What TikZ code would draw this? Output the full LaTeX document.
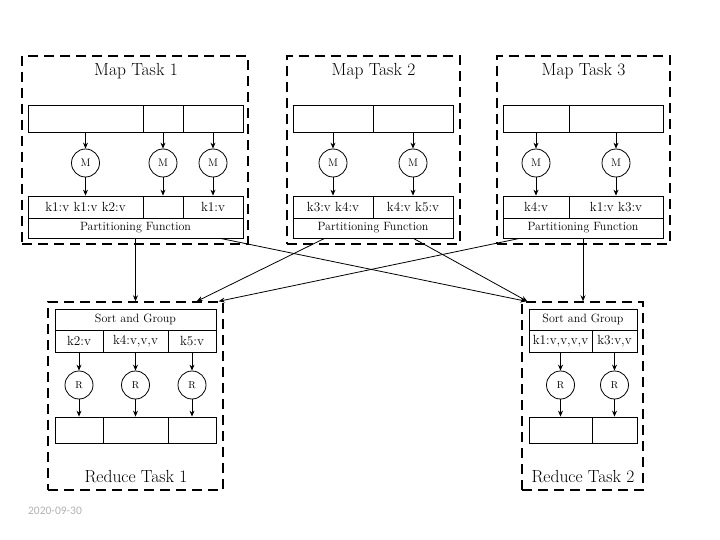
\documentclass[tikz,border=0pt]{standalone}
\usepackage{fontspec}
\newfontfamily\datefont{Carlito}
\usetikzlibrary{arrows.meta,calc}
\tikzset{
  taskbox/.style={draw, line width=1.4pt, dash pattern=on 10pt off 6pt, inner sep=0pt},
  cell/.style={draw, line width=0.8pt, inner sep=0pt, font=\fontsize{12}{14}\selectfont},
  keycell/.style={cell, font=\fontsize{13.3}{15}\selectfont},
  op/.style={draw, circle, line width=0.8pt, minimum size=28pt, inner sep=0pt, font=\fontsize{11}{13}\selectfont},
  tasktitle/.style={font=\fontsize{17.5}{20}\selectfont},
  arr/.style={-{Stealth[length=6pt,width=5pt]}, line width=0.8pt},
}
\begin{document}
\begin{tikzpicture}[x=1pt,y=-1pt]
\fill[white] (0,0) rectangle (720,540);
\useasboundingbox (0,0) rectangle (720,540);

% ---------- Map Task 1 ----------
\node[taskbox, minimum width=226pt, minimum height=188pt] (mt1) at (135,150) {};
\node[tasktitle] (t1) at (136,71) {Map Task 1};
\node[cell, minimum width=115pt, minimum height=27pt] (a11) at (85.5,118.5) {};
\node[cell, minimum width=40pt, minimum height=27pt] (a12) at (163,118.5) {};
\node[cell, minimum width=60pt, minimum height=27pt] (a13) at (213,118.5) {};
\node[op] (m11) at (85.5,163) {M};
\node[op] (m12) at (163,163) {M};
\node[op] (m13) at (213,163) {M};
\node[keycell, minimum width=115pt, minimum height=22pt] (o11) at (85.5,207) {k1:v k1:v k2:v};
\node[keycell, minimum width=40pt, minimum height=22pt] (o12) at (163,207) {};
\node[keycell, minimum width=60pt, minimum height=22pt] (o13) at (213,207) {k1:v};
\node[cell, minimum width=215pt, minimum height=20pt] (p1) at (135.5,228) {Partitioning Function};

% ---------- Map Task 2 ----------
\node[taskbox, minimum width=173pt, minimum height=188pt] (mt2) at (373.5,150) {};
\node[tasktitle] (t2) at (373.5,71) {Map Task 2};
\node[cell, minimum width=80pt, minimum height=27pt] (a21) at (333,118.5) {};
\node[cell, minimum width=80pt, minimum height=27pt] (a22) at (413,118.5) {};
\node[op] (m21) at (333,163) {M};
\node[op] (m22) at (413,163) {M};
\node[keycell, minimum width=80pt, minimum height=22pt] (o21) at (333,207) {k3:v k4:v};
\node[keycell, minimum width=80pt, minimum height=22pt] (o22) at (413,207) {k4:v k5:v};
\node[cell, minimum width=160pt, minimum height=20pt] (p2) at (373,228) {Partitioning Function};

% ---------- Map Task 3 ----------
\node[taskbox, minimum width=173pt, minimum height=188pt] (mt3) at (583.5,150) {};
\node[tasktitle] (t3) at (583.5,71) {Map Task 3};
\node[cell, minimum width=66pt, minimum height=27pt] (a31) at (536,118.5) {};
\node[cell, minimum width=94pt, minimum height=27pt] (a32) at (616,118.5) {};
\node[op] (m31) at (536,163) {M};
\node[op] (m32) at (616,163) {M};
\node[keycell, minimum width=66pt, minimum height=22pt] (o31) at (536,207) {k4:v};
\node[keycell, minimum width=94pt, minimum height=22pt] (o32) at (616,207) {k1:v k3:v};
\node[cell, minimum width=160pt, minimum height=20pt] (p3) at (583,228) {Partitioning Function};

% ---------- Reduce Task 1 ----------
\node[taskbox, minimum width=175pt, minimum height=188pt] (rt1) at (135.5,396) {};
\node[tasktitle] (u1) at (136,477) {Reduce Task 1};
\node[cell, minimum width=161pt, minimum height=21pt] (s1) at (135.5,319.5) {Sort and Group};
\node[keycell, minimum width=48pt, minimum height=22pt] (k11) at (79,341) {k2:v};
\node[keycell, minimum width=65pt, minimum height=22pt] (k12) at (135.5,341) {k4:v,v,v};
\node[keycell, minimum width=48pt, minimum height=22pt] (k13) at (192,341) {k5:v};
\node[op, font=\fontsize{10}{12}\selectfont] (r11) at (79,385) {R};
\node[op, font=\fontsize{10}{12}\selectfont] (r12) at (135.5,385) {R};
\node[op, font=\fontsize{10}{12}\selectfont] (r13) at (192,385) {R};
\node[cell, minimum width=48pt, minimum height=26pt] (q11) at (79,430) {};
\node[cell, minimum width=65pt, minimum height=26pt] (q12) at (135.5,430) {};
\node[cell, minimum width=48pt, minimum height=26pt] (q13) at (192,430) {};

% ---------- Reduce Task 2 ----------
\node[taskbox, minimum width=121pt, minimum height=188pt] (rt2) at (582.5,396) {};
\node[tasktitle] (u2) at (583,477) {Reduce Task 2};
\node[cell, minimum width=108pt, minimum height=21pt] (s2) at (583,319.5) {Sort and Group};
\node[keycell, minimum width=63pt, minimum height=22pt] (k21) at (560.5,341) {k1:v,v,v,v};
\node[keycell, minimum width=45pt, minimum height=22pt] (k22) at (614.5,341) {k3:v,v};
\node[op, font=\fontsize{10}{12}\selectfont] (r21) at (560.5,385) {R};
\node[op, font=\fontsize{10}{12}\selectfont] (r22) at (614.5,385) {R};
\node[cell, minimum width=63pt, minimum height=26pt] (q21) at (560.5,430) {};
\node[cell, minimum width=45pt, minimum height=26pt] (q22) at (614.5,430) {};

% ---------- inner arrows ----------
\foreach \i/\m/\o in {a11/m11/o11, a12/m12/o12, a13/m13/o13,
                      a21/m21/o21, a22/m22/o22, a31/m31/o31, a32/m32/o32,
                      k11/r11/q11, k12/r12/q12, k13/r13/q13,
                      k21/r21/q21, k22/r22/q22} {
  \draw[arr] (\i.south) -- (\m.north);
  \draw[arr] (\m.south) -- (\o.north);
}

% ---------- shuffle arrows ----------
\draw[arr] (p1.south) -- (p1.south |- rt1.north);
\draw[arr] (p3.south) -- (p3.south |- rt2.north);
\draw[arr] ($(p1.south east)+(-23,0)$) -- ($(rt2.north west)+(5,0)$);
\draw[arr] ($(p2.south west)+(32,0)$) -- ($(rt1.north east)+(-27,0)$);
\draw[arr] ($(p2.south east)+(-40,0)$) -- ($(rt2.north west)+(6,0)$);
\draw[arr] ($(p3.south west)+(17,0)$) -- ($(rt1.north east)+(-5,0)$);

% ---------- date ----------
\node[font=\datefont\fontsize{11.5}{13}\selectfont, text=black!30] (date) at (55,511) {2020-09-30};
\end{tikzpicture}
\end{document}
